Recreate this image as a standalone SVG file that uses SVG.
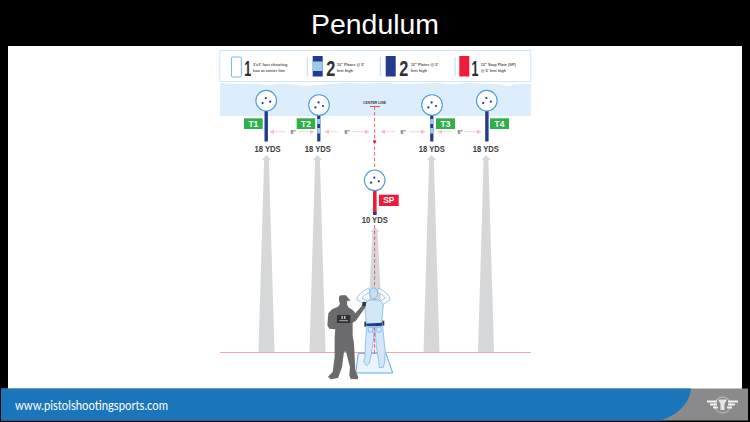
<svg xmlns="http://www.w3.org/2000/svg" xmlns:xlink="http://www.w3.org/1999/xlink" width="750" height="422" viewBox="0 0 750 422">
  <style>
    text { font-family: "Liberation Sans", Arial, sans-serif; }
    .yds { font-size: 9px; font-weight: 700; fill: #3a3b3d; text-anchor: middle; }
    .tag { font-size: 8.4px; font-weight: 700; fill: #fff; text-anchor: middle; }
    .num { font-size: 22px; font-weight: 700; fill: #2f3033; text-anchor: middle; }
    .leg { font-size: 3.9px; font-weight: 700; fill: #55565a; }
    .dim { font-size: 5px; font-weight: 700; fill: #55565a; text-anchor: middle; }
    .divider { stroke: #bcdcf2; stroke-width: 1; }
    .dimline { stroke: #f9cfd3; stroke-width: 0.9; fill: none; marker-end: url(#tick); }
    .lane { fill: #d6d7d8; }
    .plate { fill: #fff; stroke: #4d9bdb; stroke-width: 1.1; }
    .dot { fill: #1f3a8a; }
  </style>
  <defs>
    <marker id="tick" viewBox="0 0 6 6" refX="5.5" refY="3" markerWidth="4.5" markerHeight="4.5" orient="auto-start-reverse" markerUnits="userSpaceOnUse">
      <path d="M0 0 L6 3 L0 6 Z" fill="#f7bcc2"/>
    </marker>
    <g id="plate">
      <circle class="plate" r="10.3"/>
      <circle class="dot" cx="-0.4" cy="-2.6" r="1.1"/>
      <circle class="dot" cx="-3.6" cy="2.4" r="1.1"/>
      <circle class="dot" cx="4" cy="1" r="1.1"/>
    </g>
    <path id="lane" class="lane" d="M0 155 L4.5 160 L2.4 160 L8 352 L-8 352 L-2.4 160 L-4.5 160 Z"/>
    <g id="stripepole">
      <rect x="-1.6" y="0" width="3.2" height="26.5" fill="#243a8c"/>
      <rect x="-1.6" y="4" width="3.2" height="5" fill="#9ccbe9"/>
      <rect x="-1.6" y="13" width="3.2" height="5.5" fill="#9ccbe9"/>
    </g>
  </defs>

  <!-- slide frame -->
  <rect width="750" height="422" fill="#000"/>
  <rect x="8" y="46" width="734" height="343" fill="#fff"/>
  <text id="title" x="375" y="34" font-size="28.4" fill="#fff" text-anchor="middle">Pendulum</text>

  <!-- sky band -->
  <g id="sky">
    <rect x="220" y="82" width="311" height="34" fill="#dcedfb"/>
    <path d="M220 82 H531 V84 L520 83.5 L508 86 L497 84 L480 83.5 L468 83 L452 84.5 L438 83 L420 83.5 L404 84 L385 83 L365 83.5 L345 83 L325 84.5 L303 86 L285 83.5 L268 85 L255 83.5 L240 84 L220 83 Z" fill="#fff"/>
  </g>

  <!-- legend -->
  <g id="legend">
    <rect x="219.8" y="50.5" width="311" height="31" fill="#fff" stroke="#cfe5f6" stroke-width="1"/>
    <rect x="231.5" y="57" width="9.8" height="20" rx="0.8" fill="#fff" stroke="#7db7e4" stroke-width="1"/>
    <text class="num" transform="translate(247.7 75.7) scale(0.57 1)">1</text>
    <text class="leg" x="253" y="66">3'x3' foot shooting</text>
    <text class="leg" x="253" y="71.6">box at center line</text>
    <line class="divider" x1="307.3" y1="57" x2="307.3" y2="76"/>
    <rect x="312.7" y="56" width="10" height="20.5" fill="#243a8c"/>
    <rect x="312.7" y="61.5" width="10" height="9.5" fill="#9ccbe9"/>
    <text class="num" transform="translate(330.7 75.7) scale(0.74 1)">2</text>
    <text class="leg" x="336.7" y="66">10" Plates @ 5'</text>
    <text class="leg" x="336.7" y="71.6">feet high</text>
    <line class="divider" x1="380.3" y1="57" x2="380.3" y2="76"/>
    <rect x="385.7" y="56" width="10" height="20.5" fill="#243a8c"/>
    <text class="num" transform="translate(403.7 75.7) scale(0.74 1)">2</text>
    <text class="leg" x="410.7" y="66">12" Plates @ 5'</text>
    <text class="leg" x="410.7" y="71.6">feet high</text>
    <line class="divider" x1="455" y1="57" x2="455" y2="76"/>
    <rect x="459.3" y="56" width="10" height="20.5" fill="#ee1c3a"/>
    <text class="num" transform="translate(475 75.7) scale(0.57 1)">1</text>
    <text class="leg" x="480.7" y="66">12" Stop Plate (SP)</text>
    <text class="leg" x="480.7" y="71.6">@ 5' feet high</text>
  </g>

  <!-- lanes, spacing arrows and centre line -->
  <g id="connectors">
    <use xlink:href="#lane" href="#lane" x="266.5"/>
    <use xlink:href="#lane" href="#lane" x="317.5"/>
    <use xlink:href="#lane" href="#lane" x="431.5"/>
    <use xlink:href="#lane" href="#lane" x="486"/>
    <path class="lane" d="M375 227 L379.5 232 L377.6 232 L381 300 L369 300 L372.4 232 L370.5 232 Z"/>
    <line x1="370" y1="106.5" x2="380" y2="106.5" stroke="#ee3a4e" stroke-width="0.9"/>
    <line x1="374.6" y1="106.5" x2="374.6" y2="169" stroke="#f0525f" stroke-width="0.9" stroke-dasharray="3.5 2.2"/>
    <line x1="374.6" y1="225" x2="374.6" y2="352" stroke="#f0525f" stroke-width="0.9" stroke-dasharray="3.5 2.2"/>
    <circle cx="374.6" cy="141.5" r="1.6" fill="#ee1c3a"/>
    <line x1="220" y1="352.5" x2="531" y2="352.5" stroke="#f4a4ac" stroke-width="1.2"/>
    <line class="dimline" x1="285" y1="131.7" x2="270" y2="131.7"/>
    <line class="dimline" x1="298" y1="131.7" x2="314" y2="131.7"/>
    <line class="dimline" x1="338" y1="131.7" x2="325" y2="131.7"/>
    <line class="dimline" x1="352" y1="131.7" x2="369" y2="131.7"/>
    <line class="dimline" x1="395" y1="131.7" x2="381" y2="131.7"/>
    <line class="dimline" x1="409" y1="131.7" x2="425" y2="131.7"/>
    <line class="dimline" x1="451" y1="131.7" x2="438" y2="131.7"/>
    <line class="dimline" x1="464" y1="131.7" x2="481" y2="131.7"/>
    <text class="dim" x="293" y="134">6"</text>
    <text class="dim" x="347" y="134">6"</text>
    <text class="dim" x="403" y="134">6"</text>
    <text class="dim" x="460" y="134">6"</text>
  </g>

  <text x="374.6" y="104.3" font-size="4.2" font-weight="700" fill="#3a3b3d" text-anchor="middle" textLength="23" lengthAdjust="spacingAndGlyphs">CENTER LINE</text>

  <!-- steel targets -->
  <g id="t1">
    <rect x="264.5" y="111" width="3.4" height="30.5" fill="#243a8c"/>
    <use xlink:href="#plate" href="#plate" x="266.2" y="100.7"/>
    <rect x="244" y="118.3" width="18.7" height="10.7" fill="#2fb04a"/>
    <text class="tag" x="253.3" y="126.7">T1</text>
    <text class="yds" x="267.6" y="152.3" textLength="26" lengthAdjust="spacingAndGlyphs">18 YDS</text>
  </g>
  <g id="t2">
    <use xlink:href="#stripepole" href="#stripepole" x="318.8" y="115"/>
    <use xlink:href="#plate" href="#plate" x="319" y="105"/>
    <rect x="296.7" y="118.3" width="18.5" height="10.7" fill="#2fb04a"/>
    <text class="tag" x="306" y="126.7">T2</text>
    <text class="yds" x="317.8" y="152.3" textLength="26" lengthAdjust="spacingAndGlyphs">18 YDS</text>
  </g>
  <g id="t3">
    <use xlink:href="#stripepole" href="#stripepole" x="431.8" y="115"/>
    <use xlink:href="#plate" href="#plate" x="432" y="105"/>
    <rect x="436" y="118.3" width="19" height="10.7" fill="#2fb04a"/>
    <text class="tag" x="445.5" y="126.7">T3</text>
    <text class="yds" x="431.8" y="152.3" textLength="26" lengthAdjust="spacingAndGlyphs">18 YDS</text>
  </g>
  <g id="t4">
    <rect x="485.2" y="111" width="3.4" height="30.5" fill="#243a8c"/>
    <use xlink:href="#plate" href="#plate" x="486.8" y="100.7"/>
    <rect x="490" y="118.3" width="19" height="10.7" fill="#2fb04a"/>
    <text class="tag" x="499.5" y="126.7">T4</text>
    <text class="yds" x="485.8" y="152.3" textLength="26" lengthAdjust="spacingAndGlyphs">18 YDS</text>
  </g>
  <g id="sp">
    <rect x="373" y="190" width="3.6" height="23" fill="#ee1c3a"/>
    <rect x="373" y="212" width="3.6" height="3" fill="#243a8c"/>
    <use xlink:href="#plate" href="#plate" x="374.7" y="180.3"/>
    <rect x="379" y="194.7" width="19.7" height="11.3" fill="#ee1c3a"/>
    <text class="tag" x="388.8" y="203.3">SP</text>
    <text class="yds" x="374.7" y="222.8" textLength="26" lengthAdjust="spacingAndGlyphs">10 YDS</text>
  </g>

  <!-- shooting box with shooter and range officer -->
  <g id="box">
    <path d="M358.3 353.3 H386 L392.7 373 H355.7 Z" fill="#eaf4fc" stroke="#63abe2" stroke-width="1"/>
  </g>
  <g id="shooter" transform="translate(310 280) scale(0.3333)">
    <g fill="#d3e7f8" stroke="#78b7e8" stroke-width="2.4" stroke-linejoin="round">
      <path d="M168 76 L140 58 Q142 42 176 24 L180 36 Q162 44 156 54 L172 64 Z" fill="#fff"/>
      <path d="M216 76 L241 58 Q238 42 206 24 L202 36 Q220 44 226 54 L210 64 Z" fill="#fff"/>
      <path d="M170 138 L192 140 L191 175 L186 210 L181 235 L178 250 L170 257 L161 246 L165 232 L166 195 Z"/>
      <path d="M195 140 L218 138 L222 180 L226 215 L224 245 L220 262 L208 263 L206 240 L199 200 Z"/>
      <path d="M176 60 L207 60 L220 72 L215 130 L169 130 L164 74 Z"/>
      <path d="M174 142 H188 V156 H176 Z" fill="none"/>
      <path d="M199 142 H213 V156 H201 Z" fill="none"/>
      <ellipse cx="191" cy="40" rx="12" ry="16" fill="#c4dff5"/>
    </g>
    <path d="M167 131 L217 128 L215 138 L170 138 Z" fill="#1f3a8a"/>
    <rect x="163" y="125" width="5" height="15" fill="#3a3b3d"/>
    <rect x="217" y="122" width="6" height="15" fill="#3a3b3d"/>
    <line x1="193" y1="140" x2="193" y2="225" stroke="#f0525f" stroke-width="2.4" stroke-dasharray="10 7"/>
  </g>
  <g id="officer" transform="translate(310 280) scale(0.3333)">
    <path d="M87 50 L92 46 L108 46 L114 53 L122 62 L112 62 L111 73 L115 82 L128 90 L136 100 L155 78 L159 65 L169 66 L166 82 L138 122 L128 128 L128 168 L132 190 L136 270 L145 292 L143 298 L122 297 L118 285 L120 262 L108 215 L102 215 L96 262 L84 294 L62 298 L54 290 L68 276 L74 230 L74 170 L76 148 L58 146 L52 136 L55 100 L66 88 L84 80 L90 72 L87 62 Z" fill="#6b6b6d"/>
    <rect x="81" y="105" width="40" height="24" fill="#2f3033"/>
    <rect x="158" y="66" width="9" height="12" fill="#2f3033"/>
    <rect x="95" y="108" width="3" height="9" fill="#fff"/>
    <rect x="103" y="108" width="3" height="9" fill="#fff"/>
    <rect x="88" y="121" width="26" height="2.5" fill="#c9c9cb"/>
  </g>

  <!-- footer band -->
  <g id="footer">
    <rect x="1" y="388.5" width="747" height="32" fill="#8a8a8c"/>
    <path d="M1 388.5 H691 C690 403 677 416 660 420.5 H1 Z" fill="#1b75bb"/>
    <text x="15" y="410" font-size="13.4" fill="#fff" textLength="153" lengthAdjust="spacingAndGlyphs" style="font-family:Lato,'Open Sans',sans-serif">www.pistolshootingsports.com</text>
    <g id="emblem" fill="none" stroke="#f2f2f2">
      <path d="M707 401.5 H717 M710 404.5 H717 M713 407.5 H718" stroke-width="2"/>
      <path d="M738 401.5 H728 M735 404.5 H728 M732 407.5 H727" stroke-width="2"/>
      <circle cx="722.5" cy="405" r="8" stroke-width="0.9" opacity="0.6"/>
      <path d="M718 399.5 H727 L724.5 404 V410 H720.5 V404 Z" fill="#e4e4e4" stroke="none"/>
    </g>
  </g>
</svg>
